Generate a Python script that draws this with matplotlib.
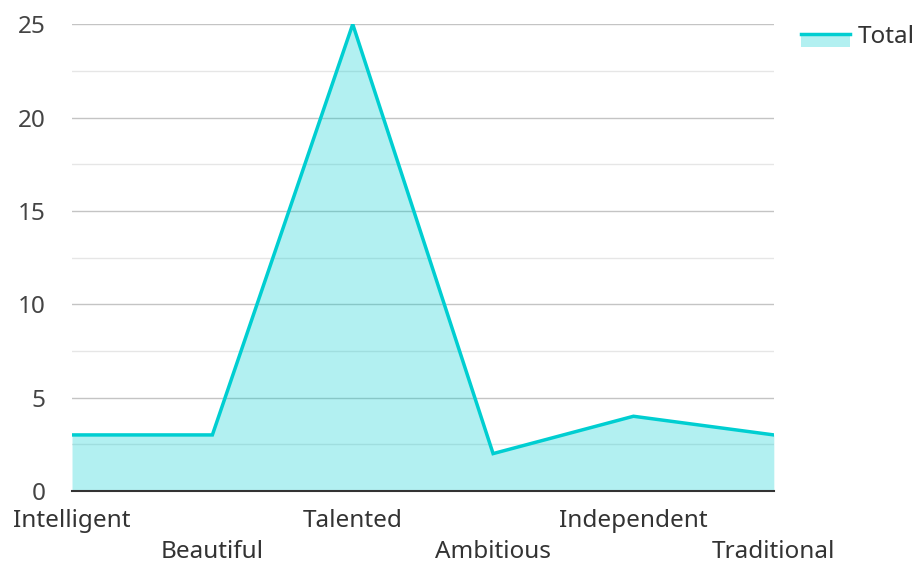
import matplotlib.pyplot as plt
from matplotlib.legend_handler import HandlerBase
from matplotlib.patches import Rectangle
from matplotlib.lines import Line2D
import numpy as np

plt.rcParams['font.family'] = ['Noto Sans', 'DejaVu Sans']

categories = ['Intelligent', 'Beautiful', 'Talented', 'Ambitious', 'Independent', 'Traditional']
totals = [3, 3, 25, 2, 4, 3]
y_ticks = [0, 5, 10, 15, 20, 25]

line_color = '#00CED1'
fill_alpha = 0.3


class AreaHandler(HandlerBase):
    # filled box with the line sitting on its top edge
    def create_artists(self, legend, orig_handle, xdescent, ydescent,
                       width, height, fontsize, trans):
        top = -ydescent + 0.5 * height
        box = Rectangle((-xdescent, top - 0.72 * height), width, 0.72 * height,
                        facecolor=line_color, alpha=fill_alpha, edgecolor='none',
                        transform=trans)
        ln = Line2D([-xdescent, -xdescent + width], [top, top],
                    color=line_color, lw=2.5, transform=trans)
        return [box, ln]


fig = plt.figure(figsize=(9.15, 5.63), dpi=100)
ax = fig.add_axes([0.0787, 0.128, 0.767, 0.829])

x = np.arange(len(categories))
ax.fill_between(x, totals, 0, color=line_color, alpha=fill_alpha, lw=0, zorder=3)
ax.plot(x, totals, color=line_color, lw=2.5, zorder=4, solid_joinstyle='miter')

ax.set_xlim(0, len(categories) - 1)
ax.set_ylim(0, 25)
ax.set_yticks(y_ticks)
ax.set_yticks(np.arange(2.5, 25, 5), minor=True)
ax.grid(axis='y', which='major', color='#c4c4c4', lw=1, zorder=1)
ax.grid(axis='y', which='minor', color='#e6e6e6', lw=1, zorder=1)
ax.tick_params(axis='y', which='both', length=0, pad=19, labelsize=17.5, labelcolor='#444444')
ax.tick_params(axis='x', length=0)
ax.set_xticks(x)
ax.set_xticklabels([])
for i, c in enumerate(categories):
    off = -0.065 if i % 2 == 0 else -0.131
    ax.text(i, off, c, transform=ax.get_xaxis_transform(), ha='center', va='center',
            fontsize=17.5, color='#333333')

for s in ['top', 'right', 'left']:
    ax.spines[s].set_visible(False)
ax.spines['bottom'].set_color('#333333')
ax.spines['bottom'].set_linewidth(1.5)
ax.spines['bottom'].set_zorder(5)

fig.legend([object()], ['Total'], handler_map={object: AreaHandler()},
           loc='upper left', bbox_to_anchor=(0.875, 0.956), frameon=False,
           borderpad=0, borderaxespad=0,
           fontsize=17.5, handlelength=2.05, handletextpad=0.3, labelcolor='#333333')

fig.savefig('out.png', dpi=100)
